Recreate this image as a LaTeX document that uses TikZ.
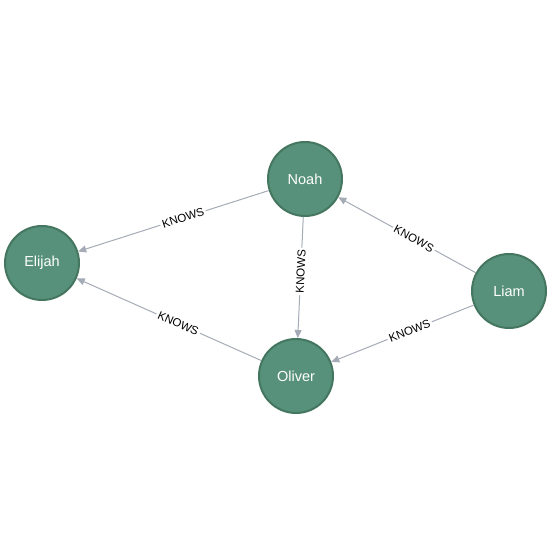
\documentclass[tikz,border=0pt]{standalone}
\usepackage{fontspec}
\setmainfont{Liberation Sans}
\usetikzlibrary{arrows.meta}
\definecolor{cnode}{HTML}{57917B}
\definecolor{cring}{HTML}{45765F}
\definecolor{cedge}{HTML}{A5ABB6}

\begin{document}
\begin{tikzpicture}[x=1pt,y=1pt,>={Triangle[length=8pt,width=7pt]},
  person/.style={circle,fill=cnode,draw=cring,line width=2pt,minimum size=74pt,inner sep=0pt,text=white,font=\fontsize{14.5}{16}\selectfont},
  rel/.style={->,draw=cedge,line width=1pt},
  knows/.style={fill=white,inner sep=2pt,sloped,pos=0.45,text=black,font=\fontsize{11.5}{12}\selectfont}]
  \useasboundingbox (0,0) rectangle (552,552);
  \node[person] (noah) at (305,373) {Noah};
  \node[person] (elijah) at (42,289) {Elijah};
  \node[person] (oliver) at (296,176) {Oliver};
  \node[person] (liam) at (509,261) {Liam};
  \draw[rel] (noah) -- node[knows] {KNOWS} (elijah);
  \draw[rel] (noah) -- node[knows] {KNOWS} (oliver);
  \draw[rel] (liam) -- node[knows] {KNOWS} (noah);
  \draw[rel] (liam) -- node[knows] {KNOWS} (oliver);
  \draw[rel] (oliver) -- node[knows] {KNOWS} (elijah);
\end{tikzpicture}
\end{document}
